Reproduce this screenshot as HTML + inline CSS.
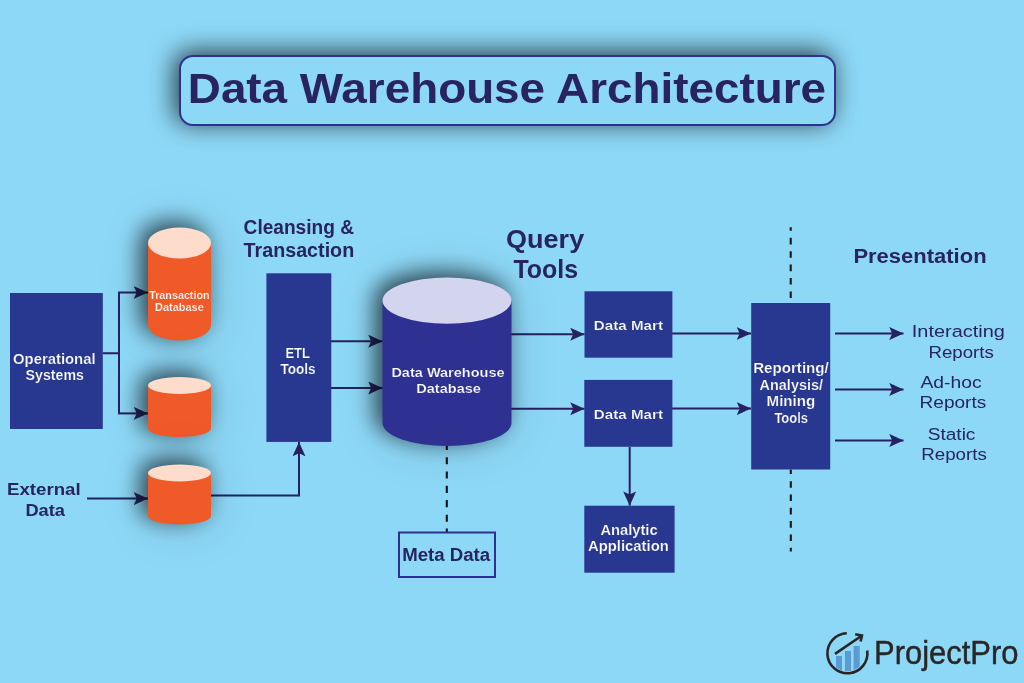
<!DOCTYPE html>
<html><head><meta charset="utf-8">
<style>
html,body{margin:0;padding:0;width:1024px;height:683px;overflow:hidden;background:#8DD8F7;}
svg{display:block;font-family:"Liberation Sans",sans-serif;}
</style></head>
<body>
<svg width="1024" height="683" viewBox="0 0 1024 683">
<defs>
  <filter id="gs" x="0" y="0" width="1024" height="683" filterUnits="userSpaceOnUse"><feOffset dx="0" dy="0"/></filter>
  <filter id="sh" x="-100%" y="-100%" width="300%" height="300%" color-interpolation-filters="sRGB">
    <feGaussianBlur in="SourceAlpha" stdDeviation="11"/>
    <feOffset dx="-7" dy="-5" result="o"/>
    <feFlood flood-color="#000000" flood-opacity="0.65"/>
    <feComposite in2="o" operator="in" result="s1"/>
    <feGaussianBlur in="SourceAlpha" stdDeviation="22" result="b2"/>
    <feFlood flood-color="#000000" flood-opacity="0.18"/>
    <feComposite in2="b2" operator="in" result="s2"/>
    <feMerge><feMergeNode in="s2"/><feMergeNode in="s1"/><feMergeNode in="SourceGraphic"/></feMerge>
  </filter>
  <filter id="sht" x="-30%" y="-100%" width="160%" height="300%" color-interpolation-filters="sRGB">
    <feGaussianBlur in="SourceAlpha" stdDeviation="13"/>
    <feOffset dx="-4" dy="-3" result="o"/>
    <feFlood flood-color="#000000" flood-opacity="0.75"/>
    <feComposite in2="o" operator="in"/>
    <feMerge><feMergeNode/><feMergeNode in="SourceGraphic"/></feMerge>
  </filter>
  <marker id="ah" viewBox="0 0 14.3 13" refX="14.3" refY="6.5" markerWidth="14.3" markerHeight="13" markerUnits="userSpaceOnUse" orient="auto">
    <path d="M0,0 L14.3,6.5 L0,13 L3,6.5 Z" fill="#252162"/>
  </marker>
  <clipPath id="cc"><circle cx="847.3" cy="653.3" r="18"/></clipPath>
</defs>
<rect width="1024" height="683" fill="#8DD8F7"/>
<rect x="180" y="56" width="655" height="69" rx="13" ry="13" fill="#8DD8F7" stroke="#2E3192" stroke-width="2" filter="url(#sht)"/>
<rect x="10" y="293" width="92.8" height="136" fill="#283890"/>
<path d="M446.8,443 V450 M446.8,457.3 V464.2 M446.8,471.5 V478.4 M446.8,485.8 V493 M446.8,500 V507.3 M446.8,514.7 V521.7 M446.8,528.6 V532
 M790.7,227.2 V230.8 M790.7,237.8 V244.4 M790.7,251.2 V257.8 M790.7,264.6 V271.2 M790.7,278 V284.6 M790.7,291.4 V298
 M790.8,469.5 V474 M790.8,481.2 V487.8 M790.8,494.5 V501.1 M790.8,507.8 V514.4 M790.8,521.1 V527.7 M790.8,534.5 V541.1 M790.8,547.8 V551.5" stroke="#141414" stroke-width="2.1" fill="none"/>
<g stroke="#252162" stroke-width="2" fill="none">
  <path d="M102.8,353.2 H119 M119,292.5 V413.4"/>
  <path d="M118,292.5 H148" marker-end="url(#ah)"/>
  <path d="M118,413.4 H148" marker-end="url(#ah)"/>
  <path d="M87,498.6 H148" marker-end="url(#ah)"/>
  <path d="M211,495.6 H299 V442" marker-end="url(#ah)"/>
  <path d="M331,341.2 H382.5" marker-end="url(#ah)"/>
  <path d="M331,388 H382.5" marker-end="url(#ah)"/>
  <path d="M511,334.2 H584.5" marker-end="url(#ah)"/>
  <path d="M511,408.8 H584.5" marker-end="url(#ah)"/>
  <path d="M672,333.5 H751" marker-end="url(#ah)"/>
  <path d="M672,408.6 H751" marker-end="url(#ah)"/>
  <path d="M629.7,447 V505.7" marker-end="url(#ah)"/>
  <path d="M835,333.6 H903.5" marker-end="url(#ah)"/>
  <path d="M835,389.4 H903.5" marker-end="url(#ah)"/>
  <path d="M835,440.4 H903.5" marker-end="url(#ah)"/>
</g>
<g filter="url(#sh)">
  <path d="M148,243 V325 A31.5,15.5 0 0 0 211,325 V243 Z" fill="#F05A28"/>
  <ellipse cx="179.5" cy="243" rx="31.5" ry="15.5" fill="#FDDCCB"/>
</g>
<g filter="url(#sh)">
  <path d="M148,385.5 V428.5 A31.5,8.5 0 0 0 211,428.5 V385.5 Z" fill="#F05A28"/>
  <ellipse cx="179.5" cy="385.5" rx="31.5" ry="8.5" fill="#FDDCCB"/>
</g>
<g filter="url(#sh)">
  <path d="M148,473 V516 A31.5,8.5 0 0 0 211,516 V473 Z" fill="#F05A28"/>
  <ellipse cx="179.5" cy="473" rx="31.5" ry="8.5" fill="#FDDCCB"/>
</g>
<rect x="266.4" y="273.3" width="64.9" height="168.6" fill="#283890"/>
<g filter="url(#sh)">
  <path d="M382.5,300.6 V423 A64.5,23 0 0 0 511.5,423 V300.6 Z" fill="#2E3192"/>
  <ellipse cx="447" cy="300.6" rx="64.5" ry="23.1" fill="#D3D4ED"/>
</g>
<rect x="399" y="532.5" width="96" height="44.5" fill="none" stroke="#2E3192" stroke-width="2"/>
<rect x="584.5" y="291.3" width="87.9" height="66.4" fill="#283890"/>
<rect x="584.3" y="379.9" width="88.1" height="66.9" fill="#283890"/>
<rect x="584.3" y="505.7" width="90.3" height="67" fill="#283890"/>
<rect x="751.2" y="303" width="79" height="166.5" fill="#283890"/>
<g clip-path="url(#cc)" fill="#5B9BD5">
  <rect x="836" y="656" width="6" height="20"/>
  <rect x="845" y="651" width="6" height="25"/>
  <rect x="853.6" y="646" width="6.1" height="30"/>
</g>
<path d="M846.8,633.3 A20,20 0 1 0 867.2,650.5" fill="none" stroke="#2A2626" stroke-width="2.6"/>
<path d="M835,653.8 L862,635.5 M855.2,634.2 L862,635.5 L860.6,641.5" fill="none" stroke="#2A2626" stroke-width="2.6"/>

<g filter="url(#gs)">
<text x="187.80" y="102.7" font-size="43" font-weight="bold" textLength="638.20" lengthAdjust="spacingAndGlyphs" fill="#282361">Data Warehouse Architecture</text>
<text x="243.60" y="233.9" font-size="20" font-weight="bold" textLength="110.40" lengthAdjust="spacingAndGlyphs" fill="#282361">Cleansing &amp;</text>
<text x="243.60" y="256.5" font-size="20" font-weight="bold" textLength="110.60" lengthAdjust="spacingAndGlyphs" fill="#282361">Transaction</text>
<text x="506.00" y="247.6" font-size="25.5" font-weight="bold" textLength="78.20" lengthAdjust="spacingAndGlyphs" fill="#282361">Query</text>
<text x="513.40" y="277.6" font-size="25.5" font-weight="bold" textLength="64.60" lengthAdjust="spacingAndGlyphs" fill="#282361">Tools</text>
<text x="853.40" y="263.0" font-size="20.3" font-weight="bold" textLength="133.20" lengthAdjust="spacingAndGlyphs" fill="#282361">Presentation</text>
<text x="13.00" y="363.6" font-size="14.8" font-weight="bold" textLength="82.60" lengthAdjust="spacingAndGlyphs" fill="#FFFFFF" stroke="#283890" stroke-width="0.2">Operational</text>
<text x="25.60" y="379.7" font-size="14.8" font-weight="bold" textLength="58.40" lengthAdjust="spacingAndGlyphs" fill="#FFFFFF" stroke="#283890" stroke-width="0.2">Systems</text>
<text x="149.20" y="299.0" font-size="10.8" font-weight="bold" textLength="60.40" lengthAdjust="spacingAndGlyphs" fill="#FFFFFF" stroke="#F05A28" stroke-width="0.2">Transaction</text>
<text x="155.00" y="311.25" font-size="10.8" font-weight="bold" textLength="48.80" lengthAdjust="spacingAndGlyphs" fill="#FFFFFF" stroke="#F05A28" stroke-width="0.2">Database</text>
<text x="285.40" y="357.9" font-size="13.8" font-weight="bold" textLength="24.60" lengthAdjust="spacingAndGlyphs" fill="#FFFFFF" stroke="#283890" stroke-width="0.2">ETL</text>
<text x="280.40" y="373.9" font-size="13.8" font-weight="bold" textLength="35.20" lengthAdjust="spacingAndGlyphs" fill="#FFFFFF" stroke="#283890" stroke-width="0.2">Tools</text>
<text x="391.40" y="376.8" font-size="13.7" font-weight="bold" textLength="113.20" lengthAdjust="spacingAndGlyphs" fill="#FFFFFF" stroke="#2E3192" stroke-width="0.2">Data Warehouse</text>
<text x="416.20" y="393.1" font-size="13.7" font-weight="bold" textLength="64.80" lengthAdjust="spacingAndGlyphs" fill="#FFFFFF" stroke="#2E3192" stroke-width="0.2">Database</text>
<text x="593.80" y="329.5" font-size="13.3" font-weight="bold" textLength="69.20" lengthAdjust="spacingAndGlyphs" fill="#FFFFFF" stroke="#283890" stroke-width="0.2">Data Mart</text>
<text x="593.80" y="418.9" font-size="13.3" font-weight="bold" textLength="69.20" lengthAdjust="spacingAndGlyphs" fill="#FFFFFF" stroke="#283890" stroke-width="0.2">Data Mart</text>
<text x="600.40" y="534.5" font-size="14" font-weight="bold" textLength="57.20" lengthAdjust="spacingAndGlyphs" fill="#FFFFFF" stroke="#283890" stroke-width="0.2">Analytic</text>
<text x="588.00" y="551.0" font-size="14" font-weight="bold" textLength="80.80" lengthAdjust="spacingAndGlyphs" fill="#FFFFFF" stroke="#283890" stroke-width="0.2">Application</text>
<text x="402.20" y="560.6" font-size="17.6" font-weight="bold" textLength="88.00" lengthAdjust="spacingAndGlyphs" fill="#282361">Meta Data</text>
<text x="753.20" y="373.1" font-size="13.8" font-weight="bold" textLength="75.60" lengthAdjust="spacingAndGlyphs" fill="#FFFFFF" stroke="#283890" stroke-width="0.2">Reporting/</text>
<text x="759.60" y="389.9" font-size="13.8" font-weight="bold" textLength="63.40" lengthAdjust="spacingAndGlyphs" fill="#FFFFFF" stroke="#283890" stroke-width="0.2">Analysis/</text>
<text x="766.60" y="405.7" font-size="13.8" font-weight="bold" textLength="48.60" lengthAdjust="spacingAndGlyphs" fill="#FFFFFF" stroke="#283890" stroke-width="0.2">Mining</text>
<text x="774.40" y="422.5" font-size="13.8" font-weight="bold" textLength="33.60" lengthAdjust="spacingAndGlyphs" fill="#FFFFFF" stroke="#283890" stroke-width="0.2">Tools</text>
<text x="7.10" y="495.0" font-size="17.3" font-weight="bold" textLength="73.50" lengthAdjust="spacingAndGlyphs" fill="#282361">External</text>
<text x="25.40" y="515.6" font-size="17.3" font-weight="bold" textLength="39.60" lengthAdjust="spacingAndGlyphs" fill="#282361">Data</text>
<text x="911.80" y="337.4" font-size="17.4" textLength="93.00" lengthAdjust="spacingAndGlyphs" fill="#282361">Interacting</text>
<text x="928.40" y="358.1" font-size="17.4" textLength="65.40" lengthAdjust="spacingAndGlyphs" fill="#282361">Reports</text>
<text x="920.40" y="387.7" font-size="17.4" textLength="61.20" lengthAdjust="spacingAndGlyphs" fill="#282361">Ad-hoc</text>
<text x="919.60" y="408.1" font-size="17.4" textLength="66.60" lengthAdjust="spacingAndGlyphs" fill="#282361">Reports</text>
<text x="927.80" y="439.9" font-size="17.4" textLength="47.60" lengthAdjust="spacingAndGlyphs" fill="#282361">Static</text>
<text x="921.20" y="460.4" font-size="17.4" textLength="65.60" lengthAdjust="spacingAndGlyphs" fill="#282361">Reports</text>
<text x="874.00" y="664.4" font-size="34" textLength="144.40" lengthAdjust="spacingAndGlyphs" fill="#2A2626" stroke="#2A2626" stroke-width="0.45">ProjectPro</text>
</g>
</svg>
</body></html>
